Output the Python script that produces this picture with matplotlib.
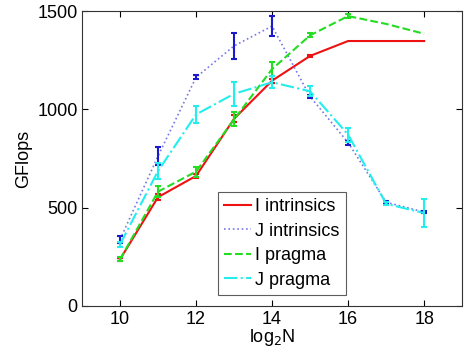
import matplotlib
matplotlib.use("Agg")
import matplotlib.pyplot as plt

plt.rcParams['font.family'] = ['Liberation Sans', 'DejaVu Sans']

x = [10, 11, 12, 13, 14, 15, 16, 17, 18]

i_intr = [236, 553, 661, 952, 1146, 1272, 1348, 1348, 1348]
i_intr_err = [8, 15, 10, 18, 10, 6, 0, 0, 0]

j_intr = [337, 762, 1163, 1323, 1424, 1065, 831, 527, 477]
j_intr_err = [18, 45, 10, 65, 50, 8, 10, 5, 5]

i_prag = [236, 581, 683, 949, 1205, 1377, 1475, 1435, 1385]
i_prag_err = [10, 28, 25, 35, 35, 10, 10, 0, 0]

j_prag = [312, 686, 974, 1079, 1138, 1092, 871, 519, 472]
j_prag_err = [15, 40, 45, 60, 30, 25, 35, 8, 70]

labels = ['I intrinsics', 'J intrinsics', 'I pragma', 'J pragma']

fig = plt.figure(figsize=(4.74, 3.49), dpi=100)
ax = fig.add_axes([0.173, 0.124, 0.802, 0.844])

red = '#ee1111'
blue_line = '#7777ee'
blue_bar = '#1a1acc'
green = '#22dd22'
cyan = '#22eeee'


def bars(vals, errs, color):
    xs = [xi for xi, e in zip(x, errs) if e > 0]
    ys = [v for v, e in zip(vals, errs) if e > 0]
    es = [e for e in errs if e > 0]
    ax.errorbar(xs, ys, yerr=es, fmt='none', ecolor=color, elinewidth=1.5,
                capsize=2.5, capthick=1.5)


ax.plot(x, i_intr, color=red, lw=1.5, ls='-', label=labels[0])
bars(i_intr, i_intr_err, red)

ax.plot(x, j_intr, color=blue_line, lw=1.2, ls=':', label=labels[1])
bars(j_intr, j_intr_err, blue_bar)

ax.plot(x, i_prag, color=green, lw=1.5, ls='--', label=labels[2])
bars(i_prag, i_prag_err, green)

ax.plot(x, j_prag, color=cyan, lw=1.5, ls='-.', label=labels[3])
bars(j_prag, j_prag_err, cyan)

ax.set_xlim(9, 19)
ax.set_ylim(0, 1500)
ax.set_xticks([10, 12, 14, 16, 18])
ax.set_yticks([0, 500, 1000, 1500])
ax.tick_params(direction='in', labelsize=13, length=4, top=True, right=True)
ax.tick_params(axis='x', pad=4)
ax.tick_params(axis='y', pad=3)
ax.set_xlabel(r'log$_2$N', fontsize=13, labelpad=-1)
ax.set_ylabel('GFlops', fontsize=13, labelpad=4)
for s in ax.spines.values():
    s.set_linewidth(0.8)
    s.set_color('#333333')

leg = ax.legend(loc='upper left', bbox_to_anchor=(0.358, 0.387),
                fontsize=13, frameon=True, fancybox=False, borderpad=0.35,
                handlelength=1.5, handletextpad=0.2, labelspacing=0.42,
                borderaxespad=0)
leg.get_frame().set_edgecolor('#333333')
leg.get_frame().set_linewidth(0.8)

fig.savefig('out.png', dpi=100)
